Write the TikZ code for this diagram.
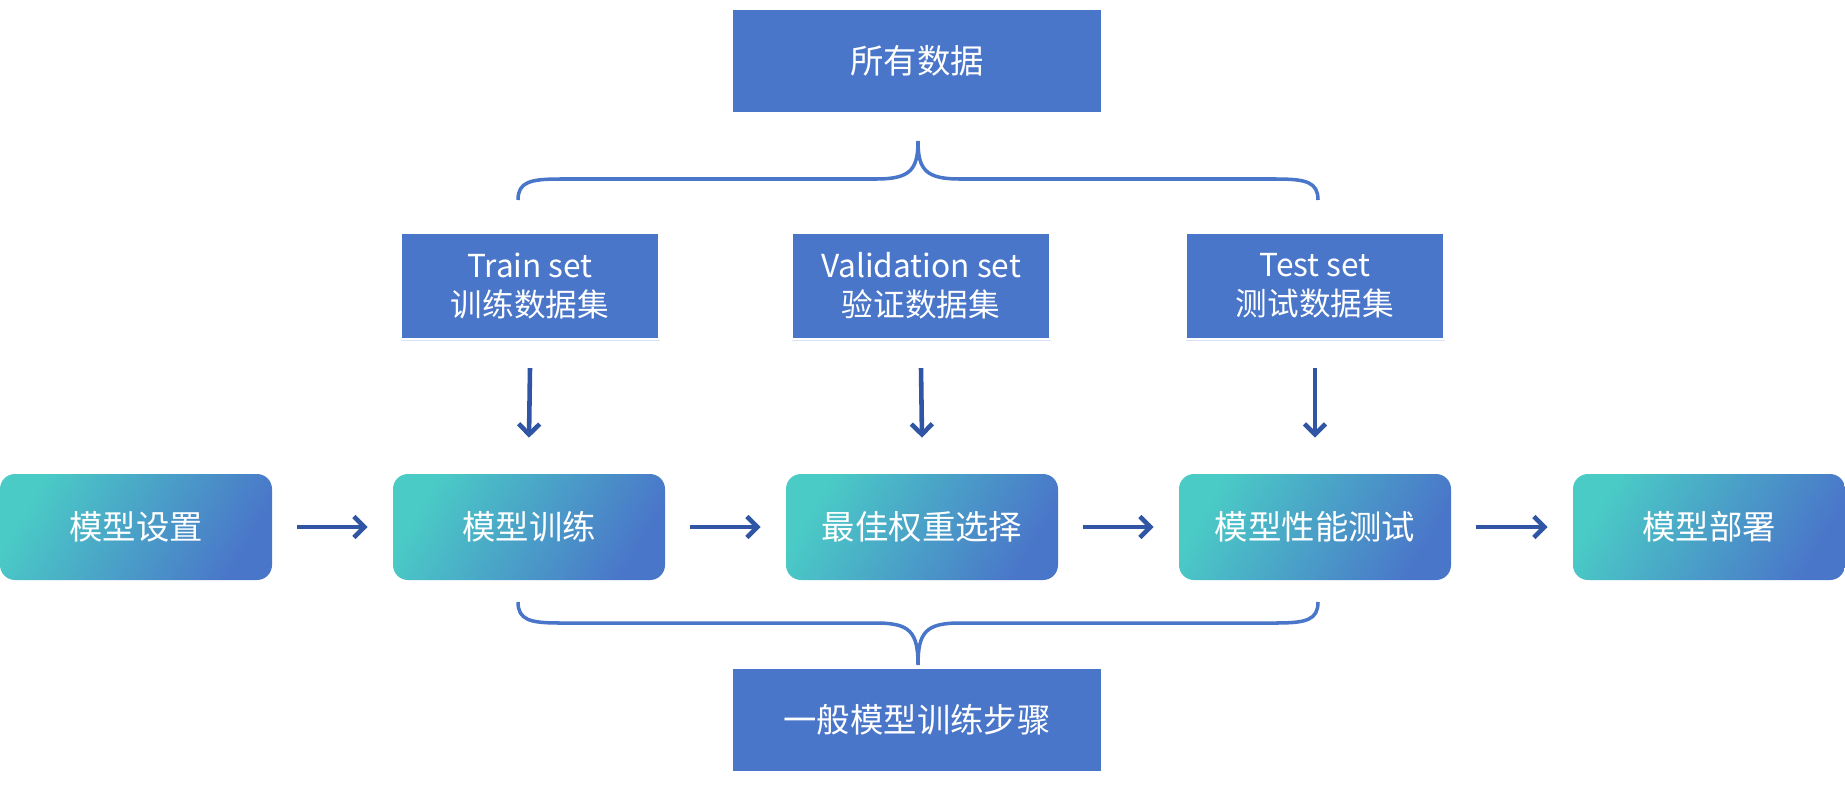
\documentclass[tikz,border=0pt]{standalone}
\usepackage{fontspec}
\setmainfont{Noto Sans CJK SC}
\usetikzlibrary{arrows.meta,shadows}
\definecolor{bb}{HTML}{4A76C9}
\definecolor{tq}{HTML}{4ACBC6}
\definecolor{ar}{HTML}{2F55A4}
\begin{document}
\begin{tikzpicture}[x=0.02cm,y=-0.02cm,
 bluebox/.style={draw=white,line width=1.2pt,fill=bb,text=white,minimum width=370*0.02cm,minimum height=105*0.02cm,inner sep=0,align=center,font=\fontsize{19pt}{23pt}\selectfont,drop shadow={shadow xshift=0.5pt,shadow yshift=-1pt,opacity=0.35,fill=bb!60}},
 setbox/.style={bluebox,minimum width=259*0.02cm,minimum height=106*0.02cm,font=\fontsize{18pt}{22pt}\selectfont},
 gbox/.style={rounded corners=0.3cm,shading=axis,left color=tq,right color=bb,shading angle=60,text=white,minimum width=272*0.02cm,minimum height=106*0.02cm,inner sep=0,font=\fontsize{19pt}{23pt}\selectfont},
 arr/.style={draw=ar,line width=2.6pt,-{Straight Barb[length=6pt,width=12pt,line width=2.6pt]}},
 brace/.style={draw=bb,line width=2pt}]
\useasboundingbox (0,0) rectangle (1845,798);
\node[bluebox] (all) at (917,61) {所有数据};
\node[bluebox] (gen) at (917,720) {一般模型训练步骤};
\node[setbox] (tr) at (530,286) {Train set\\训练数据集};
\node[setbox] (va) at (921,286) {Validation set\\验证数据集};
\node[setbox] (te) at (1315,286) {Test set\\测试数据集};
\node[gbox] (g1) at (136,527) {模型设置};
\node[gbox] (g2) at (529,527) {模型训练};
\node[gbox] (g3) at (922,527) {最佳权重选择};
\node[gbox] (g4) at (1315,527) {模型性能测试};
\node[gbox] (g5) at (1709,527) {模型部署};
\foreach \a/\b in {g1/g2,g2/g3,g3/g4,g4/g5}{\draw[arr] ([xshift=25*0.02cm]\a.east) -- ([xshift=-25*0.02cm]\b.west);}
\foreach \a/\b in {tr/g2,va/g3,te/g4}{\draw[arr] ([yshift=-28*0.02cm]\a.south) -- ([yshift=36*0.02cm]\b.north);}
\coordinate (tt) at (918,141);
\coordinate (bt) at (918,665);
\draw[brace] (518,200) .. controls (518,182) and (530,179) .. (560,179) -- (876,179) .. controls (910,179) and (918,170) .. (tt) .. controls (918,170) and (926,179) .. (960,179) -- (1276,179) .. controls (1306,179) and (1318,182) .. (1318,200);
\draw[brace] (518,602) .. controls (518,620) and (530,623) .. (560,623) -- (876,623) .. controls (910,623) and (918,632) .. (bt) .. controls (918,632) and (926,623) .. (960,623) -- (1276,623) .. controls (1306,623) and (1318,620) .. (1318,602);
\end{tikzpicture}
\end{document}
